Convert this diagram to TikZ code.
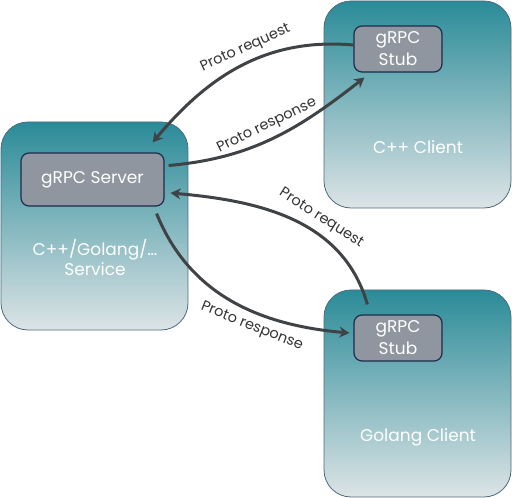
\documentclass[tikz,border=0pt]{standalone}
\usepackage{fontspec}
\setmainfont{Poppins}
\usetikzlibrary{positioning,arrows.meta}
\definecolor{tealtop}{HTML}{2A8B98}
\definecolor{tealbot}{HTML}{DDE4E6}
\definecolor{stubgray}{HTML}{8F969F}
\definecolor{navy}{HTML}{1E2C4C}
\definecolor{wire}{HTML}{404345}
\definecolor{rim}{HTML}{4C6A7E}

\begin{document}
\begin{tikzpicture}[x=1pt,y=1pt,
    svc/.style={draw=rim, line width=0.8pt, rounded corners=27pt, top color=tealtop, bottom color=tealbot,
      minimum width=187pt, minimum height=207pt, inner sep=0pt},
    stub/.style={draw=navy, line width=1.2pt, rounded corners=8pt, fill=stubgray, text=white, align=center,
      font=\fontsize{17}{22}\selectfont, inner sep=0pt},
    note/.style={text=white, align=center, font=\fontsize{17}{20}\selectfont},
    flow/.style={draw=wire, line width=3pt, -{Stealth[length=10pt,width=11pt]}},
    lbl/.style={font=\fontsize{14.5}{16}\selectfont, text=black!80, sloped}]
        \useasboundingbox (0,0) rectangle (512,498);
        % services
        \node[svc, minimum height=208pt] (server) at (94.5,272) {};
        \node[svc] (cpp) at (417.5,393.5) {};
        \node[svc] (golang) at (417.5,104.5) {};

        \node[stub, minimum width=143pt, minimum height=53pt] (srv) at (92.5,318.5) {gRPC Server};
        \node[stub, minimum width=88pt, minimum height=46pt] (cstub) at (398,449) {gRPC\\Stub};
        \node[stub, minimum width=88pt, minimum height=46pt] (gstub) at (398,160) {gRPC\\Stub};

        \node[note] (srv-txt) at (95,240) {C++/Golang/…\\Service};
        \node[note] (cpp-txt) at (418,351) {C++ Client};
        \node[note] (go-txt) at (418,61) {Golang Client};

        % calls
        \draw[flow] ([yshift=4pt]cstub.west) to[out=175, in=50]
            node[lbl, above=2pt, pos=0.45] {Proto request} ([xshift=-12pt,yshift=10pt]srv.north east);
        \draw[flow] ([xshift=4pt,yshift=14pt]srv.east) to[out=5, in=218]
            node[lbl, above=2pt, pos=0.5] {Proto response} ([xshift=11pt,yshift=-5pt]cstub.south west);
        \draw[flow] ([xshift=14pt,yshift=10pt]gstub.north west) to[out=106, in=-5]
            node[lbl, above=3pt, pos=0.4] {Proto request} ([xshift=6pt,yshift=-13.5pt]srv.east);
        \draw[flow] ([xshift=-8pt,yshift=-7pt]srv.south east) to[out=-68, in=175]
            node[lbl, below=3pt, pos=0.62] {Proto response} ([xshift=-4pt,yshift=5pt]gstub.west);
    \end{tikzpicture}
\end{document}
